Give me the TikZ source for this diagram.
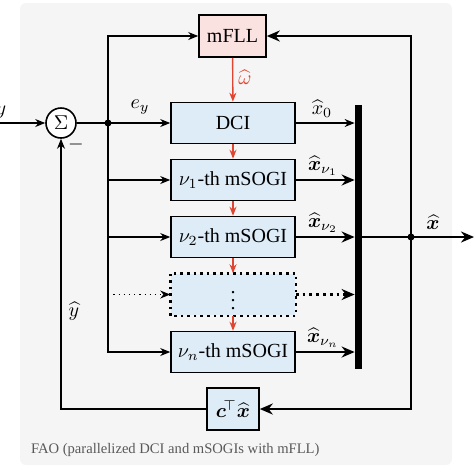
\documentclass[tikz,border=0pt]{standalone}
\usepackage{amsmath,amssymb}
\usepackage{bm}
\usepackage{fontspec}
\setmainfont{Liberation Serif}
\usetikzlibrary{arrows.meta}

\definecolor{boxblue}{RGB}{222,236,248}
\definecolor{boxred}{RGB}{250,226,224}
\definecolor{freqred}{RGB}{222,70,50}

\tikzset{
  blockbox/.style={draw, line width=0.8pt, fill=boxblue, minimum width=62pt, minimum height=20.5pt, inner sep=2pt},
  sigbar/.style={fill=black, inner sep=0pt, minimum width=3.5pt, minimum height=132pt},
  thinsig/.style={line width=0.6pt, -{Stealth[length=5pt,width=4pt]}},
  thicksig/.style={line width=1.4pt, -{Stealth[length=6.5pt,width=5.5pt]}},
  freqsig/.style={freqred, line width=0.7pt, -{Stealth[length=4.5pt,width=3.5pt]}},
  joint/.style={circle, fill=black, inner sep=0pt, minimum size=3.5pt}
}

\begin{document}
\begin{tikzpicture}[x=0.5pt, y=-0.5pt]

  % Frame
  \useasboundingbox (0,0) rectangle (474,468);
  \fill[gray!8, rounded corners=3pt] (20,3) rectangle (452,465);

  % Blocks
  \node[circle, draw, line width=0.8pt, fill=white, minimum size=15pt, inner sep=0pt] (sum) at (61,123) {$\Sigma$};
  \node[blockbox, fill=boxred, minimum width=33.5pt, minimum height=21pt] (fll) at (232.5,36) {mFLL};
  \node[blockbox] (dci) at (233,123) {DCI};
  \node[blockbox] (sogi1) at (233,180) {$\nu_1$-th mSOGI};
  \node[blockbox] (sogi2) at (233,237) {$\nu_2$-th mSOGI};
  \node[blockbox, draw=none] (sogidots) at (233,294.5) {$\vdots$};
  \draw[line width=1.3pt, dotted] (sogidots.south west) rectangle (sogidots.north east);
  \node[blockbox] (sogin) at (233,352) {$\nu_n$-th mSOGI};
  \node[blockbox, minimum width=26pt, minimum height=21pt] (outmap) at (233,409) {$\bm{c}^{\!\top}\widehat{\bm{x}}$};
  \node[sigbar] (bar) at (358.5,237) {};

  % Points
  \coordinate (in) at (0,123);
  \coordinate (split) at (108,123);
  \coordinate (tap) at (411,237);
  \coordinate (out) at (474,237);
  \node[joint] at (split) {};
  \node[joint] at (tap) {};

  % Input and error
  \draw[thinsig] (in) -- (sum.west);
  \node at (1,112) {$y$};
  \draw[line width=0.6pt] (sum.east) -- (split);
  \draw[thinsig] (split) -- (dci.west);
  \node at (140,107) {$e_y$};
  \node at (76,144) {$-$};

  % Error to all blocks
  \draw[thinsig] (split) |- (fll.west);
  \draw[thinsig] (split) |- (sogi1.west);
  \draw[thinsig] (split) |- (sogi2.west);
  \draw[thinsig, dotted] (split) |- (sogidots.west);
  \draw[thinsig] (split) |- (sogin.west);

  % Frequency chain
  \draw[freqsig] (fll) -- (dci);
  \node[freqred] at (245,77) {$\widehat{\omega}$};
  \draw[freqsig] (dci) -- (sogi1);
  \draw[freqsig] (sogi1) -- (sogi2);
  \draw[freqsig] (sogi2) -- (sogidots);
  \draw[freqsig] (sogidots) -- (sogin);

  % Outputs to bar
  \draw[thinsig] (dci.east) -- (bar.west |- dci.east);
  \node at (322,109) {$\widehat{x}_0$};
  \draw[thicksig] (sogi1.east) -- (bar.west |- sogi1.east);
  \node at (323,166) {$\widehat{\bm{x}}_{\nu_1}$};
  \draw[thicksig] (sogi2.east) -- (bar.west |- sogi2.east);
  \node at (323,223) {$\widehat{\bm{x}}_{\nu_2}$};
  \draw[thicksig, dotted] (sogidots.east) -- (bar.west |- sogidots.east);
  \draw[thicksig] (sogin.east) -- (bar.west |- sogin.east);
  \node at (323,338) {$\widehat{\bm{x}}_{\nu_n}$};

  % Estimate and feedback
  \draw[thicksig] (bar.east |- out) -- (out);
  \node at (433,222) {$\widehat{\bm{x}}$};
  \draw[thicksig] (tap) |- (fll.east);
  \draw[thicksig] (tap) |- (outmap.east);
  \draw[thinsig] (outmap.west) -| (sum.south);
  \node at (74,311) {$\widehat{y}$};

  % Caption
  \node[anchor=west, gray!70!black, font=\fontsize{7.3}{9}\selectfont] at (24,450) {FAO (parallelized DCI and mSOGIs with mFLL)};

\end{tikzpicture}
\end{document}
